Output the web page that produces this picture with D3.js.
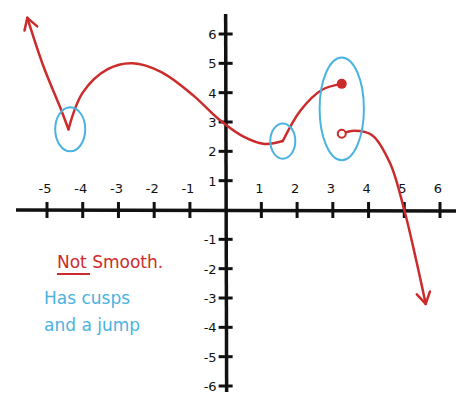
<!DOCTYPE html>
<html><head><meta charset="utf-8">
<script src="https://cdn.jsdelivr.net/npm/d3@7"></script>
<style>body{margin:0;background:#fff}</style>
</head><body><div id="chart"></div>
<script>
// hand-drawn style function graph
const xTicks = [-5, -4, -3, -2, -1, 1, 2, 3, 4, 5, 6];
const yTicks = [-6, -5, -4, -3, -2, -1, 1, 2, 3, 4, 5, 6];
const leftPiece = [[-5.55, 6.55], [-5.1, 4.9], [-4.6, 3.4], [-4.4, 2.75]];
const midPiece = [[-4.4, 2.75], [-4.0, 4.0], [-3.3, 4.8], [-2.6, 5.0], [-1.8, 4.7], [-0.9, 3.9], [-0.2, 3.1], [0.5, 2.5], [1.1, 2.25], [1.6, 2.35]];
const risePiece = [[1.6, 2.35], [2.1, 3.4], [2.7, 4.1], [3.25, 4.3]];
const rightPiece = [[3.25, 2.6], [3.6, 2.7], [4.1, 2.55], [4.6, 1.6], [5.0, 0.0], [5.35, -1.8], [5.6, -3.2]];
const circles = [[-4.35, 2.75, 0.42, 0.75], [1.6, 2.35, 0.35, 0.6], [3.25, 3.45, 0.62, 1.75]]; // cx, cy, rx, ry

const width = 474, height = 405;
const svg = d3.select("#chart").append("svg").attr("width", width).attr("height", height);
const x = d3.scaleLinear().domain([-5, 6]).range([47, 440]);
const y = d3.scaleLinear().domain([-6, 6]).range([386, 34]);

const black = "#111", red = "#cc2b2b", blue = "#4ab3e0";

// axes
svg.append("line").attr("x1", 16).attr("x2", 456).attr("y1", y(0)).attr("y2", y(0) + 1)
  .attr("stroke", black).attr("stroke-width", 3.5);
svg.append("line").attr("x1", x(0)).attr("x2", x(0) + 1).attr("y1", 14).attr("y2", 392)
  .attr("stroke", black).attr("stroke-width", 3.5);

svg.selectAll(".xt").data(xTicks).enter().append("line")
  .attr("x1", d => x(d)).attr("x2", d => x(d)).attr("y1", y(0) - 8).attr("y2", y(0) + 8)
  .attr("stroke", black).attr("stroke-width", 3);
svg.selectAll(".xl").data(xTicks).enter().append("text")
  .attr("x", d => x(d) - 2).attr("y", y(0) - 17).attr("text-anchor", "middle")
  .style("font", "13px 'DejaVu Sans', sans-serif").attr("fill", black)
  .text(d => d < 0 ? "-" + Math.abs(d) : d);

svg.selectAll(".yt").data(yTicks).enter().append("line")
  .attr("x1", x(0) - 7).attr("x2", x(0) + 7).attr("y1", d => y(d)).attr("y2", d => y(d))
  .attr("stroke", black).attr("stroke-width", 3);
svg.selectAll(".yl").data(yTicks).enter().append("text")
  .attr("x", d => x(0) - 9).attr("y", d => y(d) + 5).attr("text-anchor", "end")
  .style("font", "13px 'DejaVu Sans', sans-serif").attr("fill", black)
  .text(d => d < 0 ? "-" + Math.abs(d) : d);

// curve
const line = d3.line().x(d => x(d[0])).y(d => y(d[1])).curve(d3.curveCatmullRom);
[leftPiece, midPiece, risePiece, rightPiece].forEach(p => {
  svg.append("path").datum(p).attr("d", line).attr("fill", "none")
    .attr("stroke", red).attr("stroke-width", 2.5).attr("stroke-linecap", "round");
});

// arrow heads
function arrow(tip, from) {
  const tx = x(tip[0]), ty = y(tip[1]), fx = x(from[0]), fy = y(from[1]);
  const a = Math.atan2(ty - fy, tx - fx), L = 13;
  [a + 2.6, a - 2.6].forEach(b => {
    svg.append("line").attr("x1", tx).attr("y1", ty)
      .attr("x2", tx + L * Math.cos(b)).attr("y2", ty + L * Math.sin(b))
      .attr("stroke", red).attr("stroke-width", 2.5).attr("stroke-linecap", "round");
  });
}
arrow(leftPiece[0], leftPiece[1]);
arrow(rightPiece[rightPiece.length - 1], rightPiece[rightPiece.length - 2]);

// endpoints
svg.append("circle").attr("cx", x(risePiece[3][0])).attr("cy", y(risePiece[3][1])).attr("r", 5).attr("fill", red);
svg.append("circle").attr("cx", x(rightPiece[0][0])).attr("cy", y(rightPiece[0][1])).attr("r", 4)
  .attr("fill", "#fff").attr("stroke", red).attr("stroke-width", 2);

// blue loops
svg.selectAll(".loop").data(circles).enter().append("ellipse")
  .attr("cx", d => x(d[0])).attr("cy", d => y(d[1]))
  .attr("rx", d => x(d[2]) - x(0)).attr("ry", d => y(0) - y(d[3]))
  .attr("fill", "none").attr("stroke", blue).attr("stroke-width", 2);

// notes
const font = "17px 'DejaVu Sans', sans-serif";
svg.append("text").attr("x", 57).attr("y", 268).style("font", font).attr("fill", red).text("Not Smooth.");
svg.append("line").attr("x1", 57).attr("x2", 90).attr("y1", 274).attr("y2", 274).attr("stroke", red).attr("stroke-width", 2);
svg.append("text").attr("x", 44).attr("y", 304).style("font", font).attr("fill", blue).text("Has cusps");
svg.append("text").attr("x", 44).attr("y", 331).style("font", font).attr("fill", blue).text("and a jump");
</script></body></html>
